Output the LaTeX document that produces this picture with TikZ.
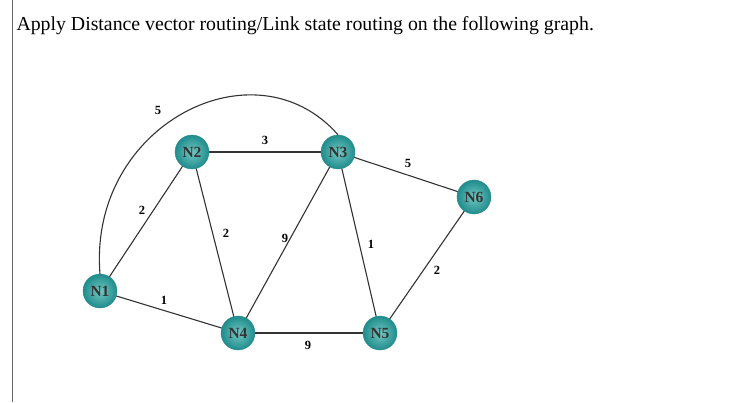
\documentclass[tikz,border=0pt]{standalone}
\usepackage{fontspec}
\setmainfont{Liberation Serif}
\pgfdeclarelayer{bg}
\pgfsetlayers{bg,main}
\begin{document}
\begin{tikzpicture}[x=1pt,y=-1pt,
  nd/.style={circle,inner color={rgb,1:red,0.45;green,0.78;blue,0.76},outer color={rgb,1:red,0.12;green,0.55;blue,0.55},draw={rgb,1:red,0.2;green,0.55;blue,0.55},line width=0.4pt,inner sep=0pt,minimum width=34pt,minimum height=32pt,font=\fontsize{15.5}{15.5}\selectfont\bfseries,text=black!80},
  ed/.style={line width=1.1pt,black!80},
  lb/.style={font=\fontsize{12.5}{13}\selectfont\bfseries}]
\useasboundingbox (0,0) rectangle (744,402);
\draw[line width=0.6pt,black!60] (12,0) -- (12,402);
\node[anchor=west,font=\fontsize{19.8}{20}\selectfont] (t) at (13,26) {Apply Distance vector routing/Link state routing on the following graph.};
\node[nd] (n1) at (100,291) {N1};
\node[nd] (n2) at (192,152) {N2};
\node[nd] (n3) at (338,152) {N3};
\node[nd] (n4) at (238,333) {N4};
\node[nd] (n5) at (380,333) {N5};
\node[nd] (n6) at (474,197) {N6};
\begin{pgfonlayer}{bg}
\draw[ed] (n1.center) -- (n1.north) .. controls (88,125) and (255,40) .. (n3.north);
\draw[ed] (n1.center) -- (n2.center);
\draw[ed] (n1.center) -- (n4.center);
\draw[ed] (n2.center) -- (n3.center);
\draw[ed] (n2.center) -- (n4.center);
\draw[ed] (n3.center) -- (n4.center);
\draw[ed] (n3.center) -- (n5.center);
\draw[ed] (n3.center) -- (n6.center);
\draw[ed] (n4.center) -- (n5.center);
\draw[ed] (n5.center) -- (n6.center);
\end{pgfonlayer}
\node[lb] (l1) at (158,110) {5};
\node[lb] (l2) at (265,140) {3};
\node[lb] (l3) at (408,163) {5};
\node[lb] (l4) at (142,210) {2};
\node[lb] (l5) at (226,233) {2};
\node[lb] (l6) at (285,238) {9};
\node[lb] (l7) at (371,244) {1};
\node[lb] (l8) at (437,270) {2};
\node[lb] (l9) at (164,300) {1};
\node[lb] (l10) at (308,345) {9};
\end{tikzpicture}
\end{document}
